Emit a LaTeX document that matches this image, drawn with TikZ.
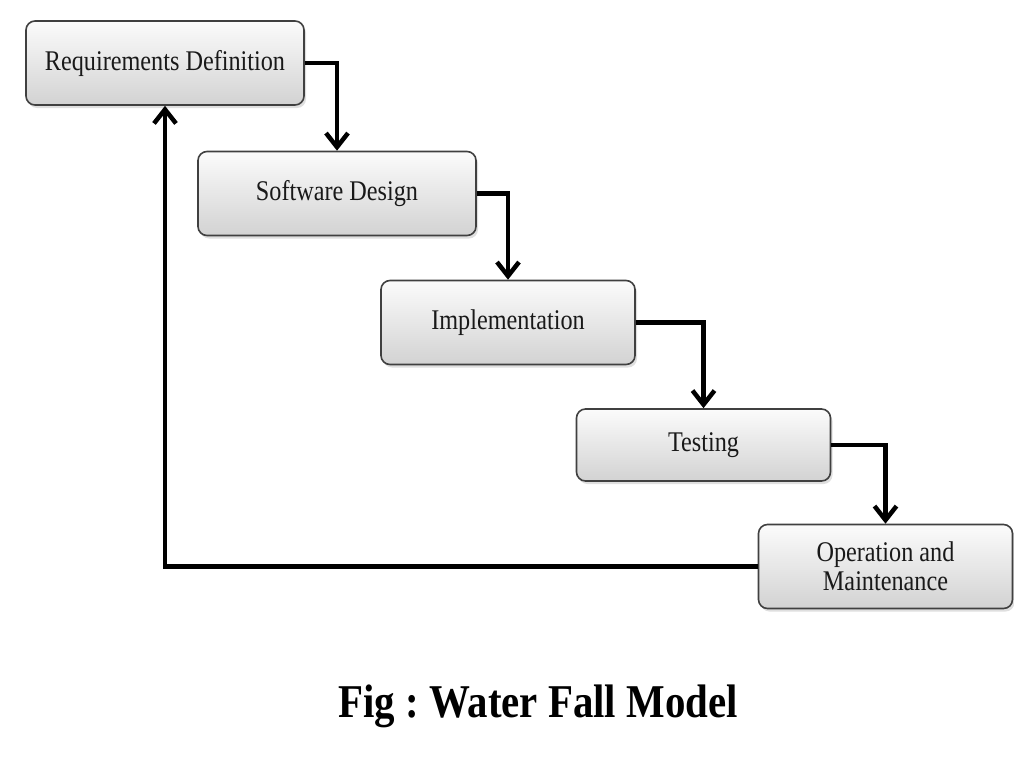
\documentclass[tikz,border=0pt]{standalone}
\usepackage{fontspec}
\setmainfont{Liberation Serif}
\newfontfamily\boxfont[FakeStretch=0.85]{Liberation Serif}
\newfontfamily\titlefont[FakeStretch=0.87]{Liberation Serif}
\usetikzlibrary{
    arrows.meta,
    shadows
}

\begin{document}
\begin{tikzpicture}[
        x=1pt, y=1pt,
        every node/.style={inner sep=0pt},
        phase/.style={
            rectangle,
            rounded corners=9pt,
            draw=black!75,
            line width=1.6pt,
            top color=gray!3,
            bottom color=gray!35,
            minimum width=278pt,
            minimum height=84pt,
            align=center,
            text=black!90,
            font=\boxfont\fontsize{28.5}{29}\selectfont,
            drop shadow={opacity=0.25,shadow xshift=2pt,shadow yshift=-3pt}
        },
        narrow/.style={phase,minimum width=254pt},
        flow/.style={-{Straight Barb[length=14pt,width=22pt]},line width=4.5pt,draw=black},
        caption/.style={font=\titlefont\bfseries\frenchspacing\fontsize{47}{52}\selectfont}
    ]
        \fill[white] (0,0) rectangle (1014,-763);
        \useasboundingbox (0,0) rectangle (1014,-763);

        \node[phase] (req) at (165,-63) {Requirements Definition};
        \node[phase] (design) at (337,-193.5) {Software Design};
        \node[narrow] (impl) at (508,-322.5) {Implementation};
        \node[narrow, minimum height=72pt] (test) at (703.5,-445) {Testing};
        \node[narrow] (maint) at (885.5,-566.5) {Operation and\\Maintenance};
        \node[caption, anchor=base] (title) at (538,-717) {Fig : Water Fall Model};

        \draw[flow] (req) -| (design);
        \draw[flow] (design) -| (impl);
        \draw[flow] (impl) -| (test);
        \draw[flow] (test) -| (maint);
        \draw[flow] (maint) -| (req);
    \end{tikzpicture}
\end{document}
